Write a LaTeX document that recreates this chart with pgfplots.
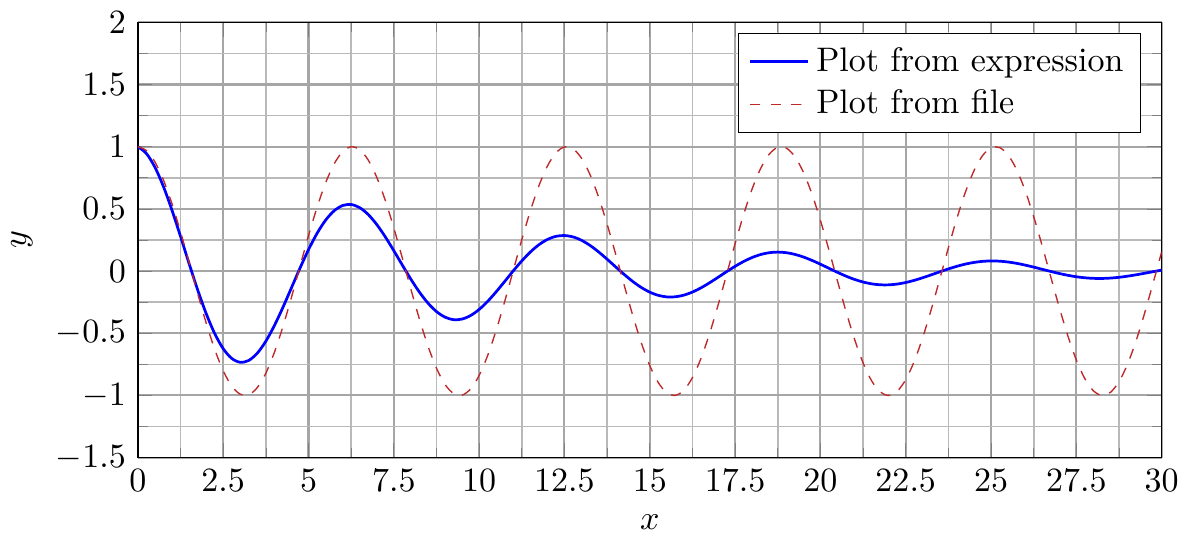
\documentclass[border=0pt]{standalone}
\usepackage{pgfplots}
\pgfplotsset{compat=1.18}
\definecolor{dashred}{RGB}{190,40,40}
\begin{document}
\begin{tikzpicture}
  \begin{axis}[
    scale only axis, width=301pt, height=128pt,
    xmin=0, xmax=30, ymin=-1.5, ymax=2,
    xtick distance=2.5, ytick distance=0.5, minor tick num=1,
    grid=both,
    major grid style={gray!70, line width=0.6pt},
    minor grid style={gray!55, line width=0.5pt},
    xlabel={$x$}, ylabel={$y$},
    legend style={at={(0.98,0.976)}, anchor=north east, cells={anchor=west}},
  ]
    % damped cosine
    \addplot[blue, thick, smooth] coordinates {
      (0,1) (0.25,0.94499) (0.5,0.83478) (0.75,0.67882)
      (1,0.48888) (1.25,0.27827) (1.5,0.06089) (1.75,-0.14963)
      (2,-0.34071) (2.25,-0.50161) (2.5,-0.62393) (2.75,-0.70207)
      (3,-0.73340) (3.25,-0.71829) (3.5,-0.65991) (3.75,-0.56396)
      (4,-0.43815) (4.25,-0.29196) (4.5,-0.13441) (4.75,0.02338)
      (5,0.17205) (5.25,0.30293) (5.5,0.40886) (5.75,0.48456)
      (6,0.52695) (6.25,0.53497) (6.5,0.50983) (6.75,0.45468)
      (7,0.37438) (7.25,0.27506) (7.5,0.16374) (7.75,0.04782)
      (8,-0.06538) (8.25,-0.16905) (8.5,-0.25731) (8.75,-0.32550)
      (9,-0.37044) (9.25,-0.39049) (9.5,-0.38565) (9.75,-0.35742)
      (10,-0.30868) (10.25,-0.24340) (10.5,-0.16641) (10.75,-0.08297)
      (11,0.00147) (11.25,0.08171) (11.5,0.15303) (11.75,0.21150)
      (12,0.25416) (12.25,0.27918) (12.5,0.28587) (12.75,0.27473)
      (13,0.24731) (13.25,0.20607) (13.5,0.15423) (13.75,0.09546)
      (14,0.03372) (14.25,-0.02708) (14.5,-0.08325) (14.75,-0.13159)
      (15,-0.16951) (15.25,-0.19520) (15.5,-0.20767) (15.75,-0.20682)
      (16,-0.19335) (16.25,-0.16869) (16.5,-0.13490) (16.75,-0.09449)
      (17,-0.05027) (17.25,-0.00512) (17.5,0.03813) (17.75,0.07694)
      (18,0.10915) (18.25,0.13310) (18.5,0.14773) (18.75,0.15260)
      (19,0.14788) (19.25,0.13434) (19.5,0.11322) (19.75,0.08621)
      (20,0.05523) (20.25,0.02238) (20.5,-0.01024) (20.75,-0.04064)
      (21,-0.06707) (21.25,-0.08811) (21.5,-0.10271) (21.75,-0.11032)
      (22,-0.11080) (22.25,-0.10447) (22.5,-0.09205) (22.75,-0.07459)
      (23,-0.05342) (23.25,-0.03001) (23.5,-0.00590) (23.75,0.01739)
      (24,0.03848) (24.25,0.05619) (24.5,0.06959) (24.75,0.07807)
      (25,0.08136) (25.25,0.07951) (25.5,0.07288) (25.75,0.06210)
      (26,0.04805) (26.25,0.03174) (26.5,0.01428) (26.75,-0.00320)
      (27,-0.01963) (27.25,-0.03406) (27.5,-0.04570) (27.75,-0.05397)
      (28,-0.05854) (28.25,-0.05929) (28.5,-0.05638) (28.75,-0.05015)
      (29,-0.04116) (29.25,-0.03009) (29.5,-0.01771) (29.75,-0.00485)
      (30,0.00768)
    };
    \addlegendentry{Plot from expression}
    % plain cosine
    \addplot[dashred, dashed, smooth] coordinates {
      (0,1) (0.25,0.96891) (0.5,0.87758) (0.75,0.73169)
      (1,0.54030) (1.25,0.31532) (1.5,0.07074) (1.75,-0.17825)
      (2,-0.41615) (2.25,-0.62817) (2.5,-0.80114) (2.75,-0.92430)
      (3,-0.98999) (3.25,-0.99413) (3.5,-0.93646) (3.75,-0.82056)
      (4,-0.65364) (4.25,-0.44657) (4.5,-0.21080) (4.75,0.03760)
      (5,0.28366) (5.25,0.51209) (5.5,0.70867) (5.75,0.86112)
      (6,0.96017) (6.25,0.99945) (6.5,0.97659) (6.75,0.89301)
      (7,0.75390) (7.25,0.56792) (7.5,0.34664) (7.75,0.10379)
      (8,-0.14550) (8.25,-0.38575) (8.5,-0.60201) (8.75,-0.78085)
      (9,-0.91113) (9.25,-0.98477) (9.5,-0.99717) (9.75,-0.94758)
      (10,-0.83907) (10.25,-0.67839) (10.5,-0.47554) (10.75,-0.24311)
      (11,0.00443) (11.25,0.25169) (11.5,0.48330) (11.75,0.68487)
      (12,0.84385) (12.25,0.95037) (12.5,0.99780) (12.75,0.98319)
      (13,0.90745) (13.25,0.77529) (13.5,0.59492) (13.75,0.37757)
      (14,0.13674) (14.25,-0.11259) (14.5,-0.35492) (14.75,-0.57519)
      (15,-0.75969) (15.25,-0.89695) (15.5,-0.97845) (15.75,-0.99912)
      (16,-0.95766) (16.25,-0.85666) (16.5,-0.70240) (16.75,-0.50446)
      (17,-0.27516) (17.25,-0.02876) (17.5,0.21943) (17.75,0.45399)
      (18,0.66032) (18.25,0.82559) (18.5,0.93953) (18.75,0.99505)
      (19,0.98870) (19.25,0.92089) (19.5,0.79582) (19.75,0.62126)
      (20,0.40808) (20.25,0.16953) (20.5,-0.07956) (20.75,-0.32371)
      (21,-0.54773) (21.25,-0.73769) (21.5,-0.88179) (21.75,-0.97107)
      (22,-0.99996) (22.25,-0.96669) (22.5,-0.87330) (22.75,-0.72563)
      (23,-0.53283) (23.25,-0.30691) (23.5,-0.06191) (23.75,0.18695)
      (24,0.42418) (24.25,0.63504) (24.5,0.80641) (24.75,0.92765)
      (25,0.99120) (25.25,0.99313) (25.5,0.93332) (25.75,0.81547)
      (26,0.64692) (26.25,0.43815) (26.5,0.20214) (26.75,-0.04645)
      (27,-0.29214) (27.25,-0.51967) (27.5,-0.71489) (27.75,-0.86566)
      (28,-0.96260) (28.25,-0.99970) (28.5,-0.97465) (28.75,-0.88899)
      (29,-0.74806) (29.25,-0.56062) (29.5,-0.33832) (29.75,-0.09499)
      (30,0.15425)
    };
    \addlegendentry{Plot from file}
  \end{axis}
\end{tikzpicture}
\end{document}
